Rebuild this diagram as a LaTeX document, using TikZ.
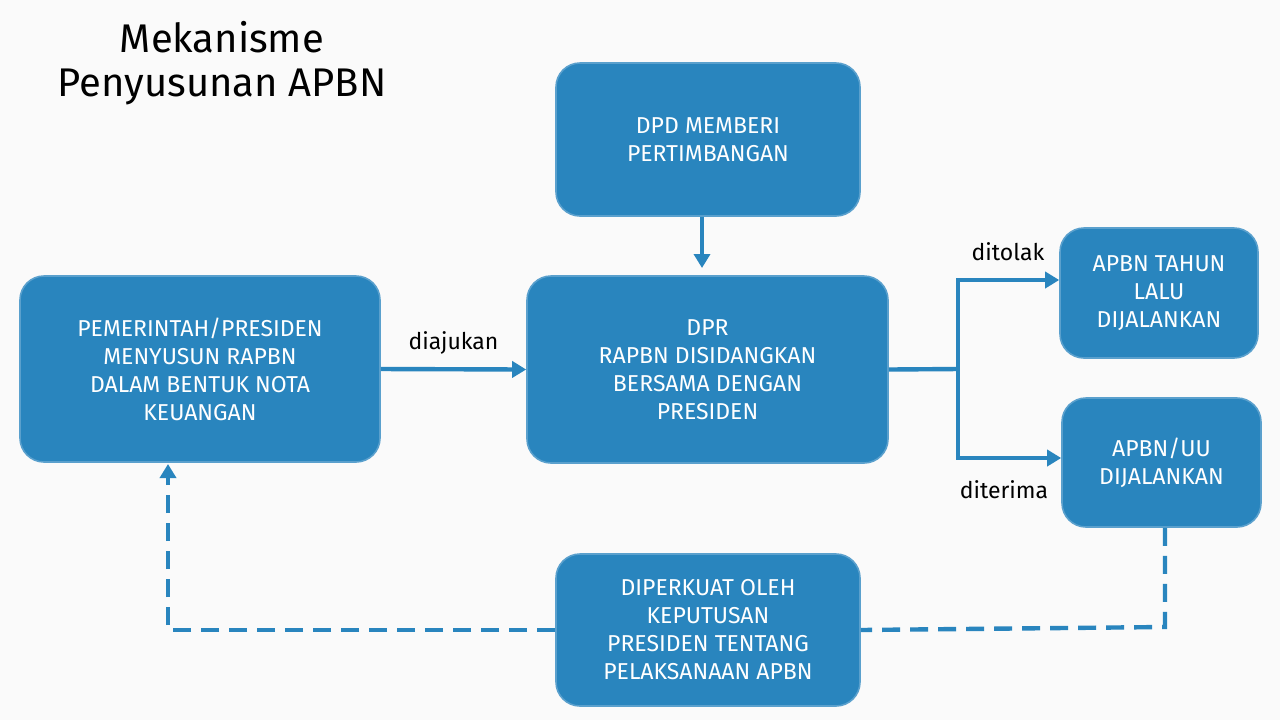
\documentclass[tikz,border=0pt]{standalone}
\usepackage{fontspec}
\setmainfont{Fira Sans}
\usetikzlibrary{arrows.meta}
\definecolor{boxc}{RGB}{41,133,190}
\definecolor{edgec}{RGB}{90,160,205}
\definecolor{bg}{RGB}{250,250,250}
\tikzset{
  box/.style={draw=edgec,line width=0.8pt,fill=boxc,rounded corners=12pt,text=white,align=center,font=\fontsize{11.5}{14}\selectfont,inner sep=0pt},
  conn/.style={draw=boxc,line width=2.2pt,-{Triangle[length=7pt,width=8pt]}},
  dconn/.style={draw=boxc,line width=2.2pt,dash pattern=on 9pt off 5pt},
  lab/.style={font=\fontsize{11.5}{14}\selectfont,text=black}
}
\begin{document}
\begin{tikzpicture}[x=0.5pt,y=-0.5pt]
\fill[bg] (0,0) rectangle (1280,720);
\useasboundingbox (0,0) rectangle (1280,720);
\node[align=center,font=\fontsize{20}{22}\selectfont] (title) at (222,63) {Mekanisme\\Penyusunan APBN};
\node[box,minimum width=152pt,minimum height=76.5pt] (dpd) at (708,139.5) {DPD MEMBERI\\PERTIMBANGAN};
\node[box,minimum width=180pt,minimum height=93pt] (pem) at (200,369) {PEMERINTAH/PRESIDEN\\MENYUSUN RAPBN\\DALAM BENTUK NOTA\\KEUANGAN};
\node[box,minimum width=180.5pt,minimum height=93.5pt] (dpr) at (707.5,369.5) {DPR\\RAPBN DISIDANGKAN\\BERSAMA DENGAN\\PRESIDEN};
\node[box,minimum width=99pt,minimum height=65pt] (lalu) at (1159,293) {APBN TAHUN\\LALU\\DIJALANKAN};
\node[box,minimum width=99.5pt,minimum height=64.5pt] (uu) at (1161.5,462.5) {APBN/UU\\DIJALANKAN};
\node[box,minimum width=152pt,minimum height=76pt] (kep) at (708,630) {DIPERKUAT OLEH\\KEPUTUSAN\\PRESIDEN TENTANG\\PELAKSANAAN APBN};
\draw[conn] (dpd.south -| 702,0) -- (702,268);
\draw[conn] (pem.east) -- (dpr.west) node[lab,midway,above=3pt] {diajukan};
\coordinate (split) at (958,369);
\draw[draw=boxc,line width=2.2pt] (dpr.east) -- (split);
\draw[conn] (958,369) -- (958,280) -- (lalu.west |- 0,280);
\draw[conn] (958,369) -- (958,458) -- (uu.west |- 0,458);
\node[lab] (tol) at (1008,252) {ditolak};
\node[lab] (ter) at (1004,490) {diterima};
\draw[dconn] (uu.south -| 1165,0) -- (1165,627) -- (kep.east |- 0,630);
\draw[dconn,-{Triangle[length=7pt,width=8pt]}] (kep.west) -- (168,630) -- (168,464);
\end{tikzpicture}
\end{document}
